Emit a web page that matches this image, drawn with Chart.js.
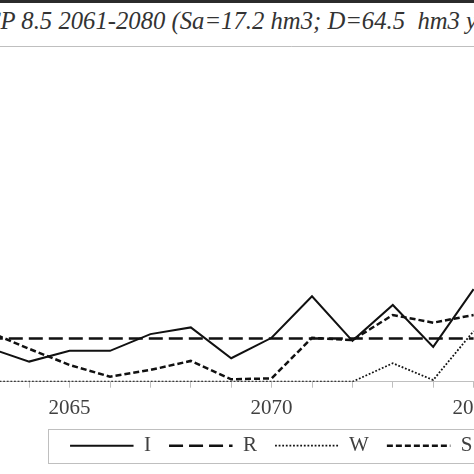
<!DOCTYPE html>
<html lang="en">
<head>
    <meta charset="UTF-8">
    <meta name="viewport" content="width=device-width, initial-scale=1.0">
    <title>RCP 8.5 2061-2080</title>
    <script src="https://cdn.jsdelivr.net/npm/chart.js"></script>
    <style>
        * {
            box-sizing: border-box;
            margin: 0;
            padding: 0;
        }

        html, body {
            width: 474px;
            height: 474px;
            overflow: hidden;
            background: #fff;
        }

        .top-bar {
            position: absolute;
            left: 0;
            top: 0;
            width: 474px;
            height: 3px;
            background: #2b2b2b;
        }

        .chart-title {
            position: absolute;
            left: -31px;
            top: 9px;
            font-family: 'Liberation Serif', serif;
            font-style: italic;
            font-size: 24.7px;
            line-height: 24px;
            color: #333;
            white-space: pre;
        }

        .chart-box {
            position: absolute;
            left: -143px;
            top: 0;
            width: 849px;
            height: 474px;
        }
    </style>
</head>
<body>
    <div class="top-bar"></div>
    <div class="chart-title">RCP 8.5 2061-2080 (Sa=17.2 hm3; D=64.5  hm3 year-1)</div>
    <div class="chart-box">
        <canvas id="mainChart"></canvas>
    </div>

    <script>
        // Data (hm3); null = outside the visible part
        const years = [2061, 2062, 2063, 2064, 2065, 2066, 2067, 2068, 2069, 2070,
                       2071, 2072, 2073, 2074, 2075, 2076, 2077, 2078, 2079, 2080];
        const seriesI = [null, null, 10.1, 6.0, 9.2, 9.2, 14.2, 16.2, 7.0, 13.1,
                         25.5, 12.2, 22.9, 10.4, 27.6, null, null, null, null, null];
        const seriesR = [null, null, 12.9, 12.9, 12.9, 12.9, 12.9, 12.9, 12.9, 12.9,
                         12.9, 12.9, 12.9, 12.9, 12.9, null, null, null, null, null];
        const seriesW = [null, null, 0, 0, 0, 0, 0, 0, 0, 0,
                         0, 0, 5.5, 0.5, 15.1, null, null, null, null, null];
        const seriesS = [null, null, 14.9, 9.8, 5.0, 1.5, 3.5, 6.2, 0.7, 1.0,
                         13.1, 12.4, 19.9, 17.6, 19.9, null, null, null, null, null];
        const yMax = 100;

        const serif = 'Liberation Serif';
        const axisGrey = '#bfbfbf';
        const textGrey = '#404040';
        const ink = '#111';

        // grey frame round the legend
        const legendFrame = {
            id: 'legendFrame',
            afterDraw(chart) {
                const boxes = chart.legend.legendHitBoxes;
                if (!boxes || !boxes.length) return;
                const first = boxes[0];
                const last = boxes[boxes.length - 1];
                const mid = first.top + 10.5;
                const left = Math.round(first.left - 22) + 0.5;
                const right = Math.round(last.left + last.width + 22) + 0.5;
                const top = Math.round(mid - 17) + 0.5;
                const bottom = Math.round(mid + 17) + 0.5;
                const ctx = chart.ctx;
                ctx.save();
                ctx.strokeStyle = axisGrey;
                ctx.lineWidth = 1;
                ctx.strokeRect(left, top, right - left, bottom - top);
                ctx.restore();
            }
        };

        function lineSet(label, data, width, dash) {
            return {
                label: label,
                data: data,
                borderColor: ink,
                backgroundColor: ink,
                borderWidth: width,
                borderDash: dash,
                pointRadius: 0,
                pointHoverRadius: 0,
                pointStyle: 'line',
                tension: 0,
                fill: false
            };
        }

        new Chart(document.getElementById('mainChart'), {
            type: 'line',
            data: {
                labels: years,
                datasets: [
                    lineSet('I', seriesI, 2, []),
                    lineSet('R', seriesR, 2.5, [14, 6]),
                    lineSet('W', seriesW, 1.8, [1.8, 1.8]),
                    lineSet('S', seriesS, 2.5, [6, 3])
                ]
            },
            options: {
                responsive: true,
                maintainAspectRatio: false,
                animation: false,
                layout: {
                    padding: { left: 10, right: 30.4, top: 46.5, bottom: 7.8 }
                },
                scales: {
                    x: {
                        type: 'category',
                        offset: false,
                        grid: {
                            display: true,
                            drawOnChartArea: false,
                            drawTicks: true,
                            tickLength: 6,
                            color: axisGrey
                        },
                        border: { display: true, color: axisGrey, width: 1 },
                        ticks: {
                            autoSkip: false,
                            maxRotation: 0,
                            minRotation: 0,
                            padding: 7.7,
                            color: textGrey,
                            font: { family: serif, size: 21 },
                            callback: function(value, index) {
                                const yr = years[index];
                                return yr % 5 === 0 ? String(yr) : '';
                            }
                        },
                        afterFit: function(scale) {
                            scale.height = 35.5;
                        }
                    },
                    y: {
                        min: 0,
                        max: yMax,
                        grid: { color: axisGrey, drawTicks: false },
                        border: { display: false },
                        ticks: { display: false },
                        afterBuildTicks: function(scale) {
                            scale.ticks = [{ value: yMax }];
                        },
                        afterFit: function(scale) {
                            scale.width = 41;
                        }
                    }
                },
                plugins: {
                    tooltip: { enabled: false },
                    legend: {
                        position: 'bottom',
                        labels: {
                            usePointStyle: true,
                            pointStyleWidth: 63.5,
                            boxHeight: 10,
                            padding: 18,
                            color: textGrey,
                            font: { family: serif, size: 21 },
                            generateLabels: function(chart) {
                                return chart.data.datasets.map((ds, i) => ({
                                    text: ds.label,
                                    strokeStyle: ds.borderColor,
                                    fillStyle: ds.borderColor,
                                    lineWidth: ds.borderWidth,
                                    lineDash: ds.borderDash,
                                    lineCap: 'butt',
                                    pointStyle: 'line',
                                    fontColor: textGrey,
                                    hidden: !chart.isDatasetVisible(i),
                                    datasetIndex: i
                                }));
                            }
                        }
                    }
                }
            },
            plugins: [legendFrame]
        });
    </script>
</body>
</html>
